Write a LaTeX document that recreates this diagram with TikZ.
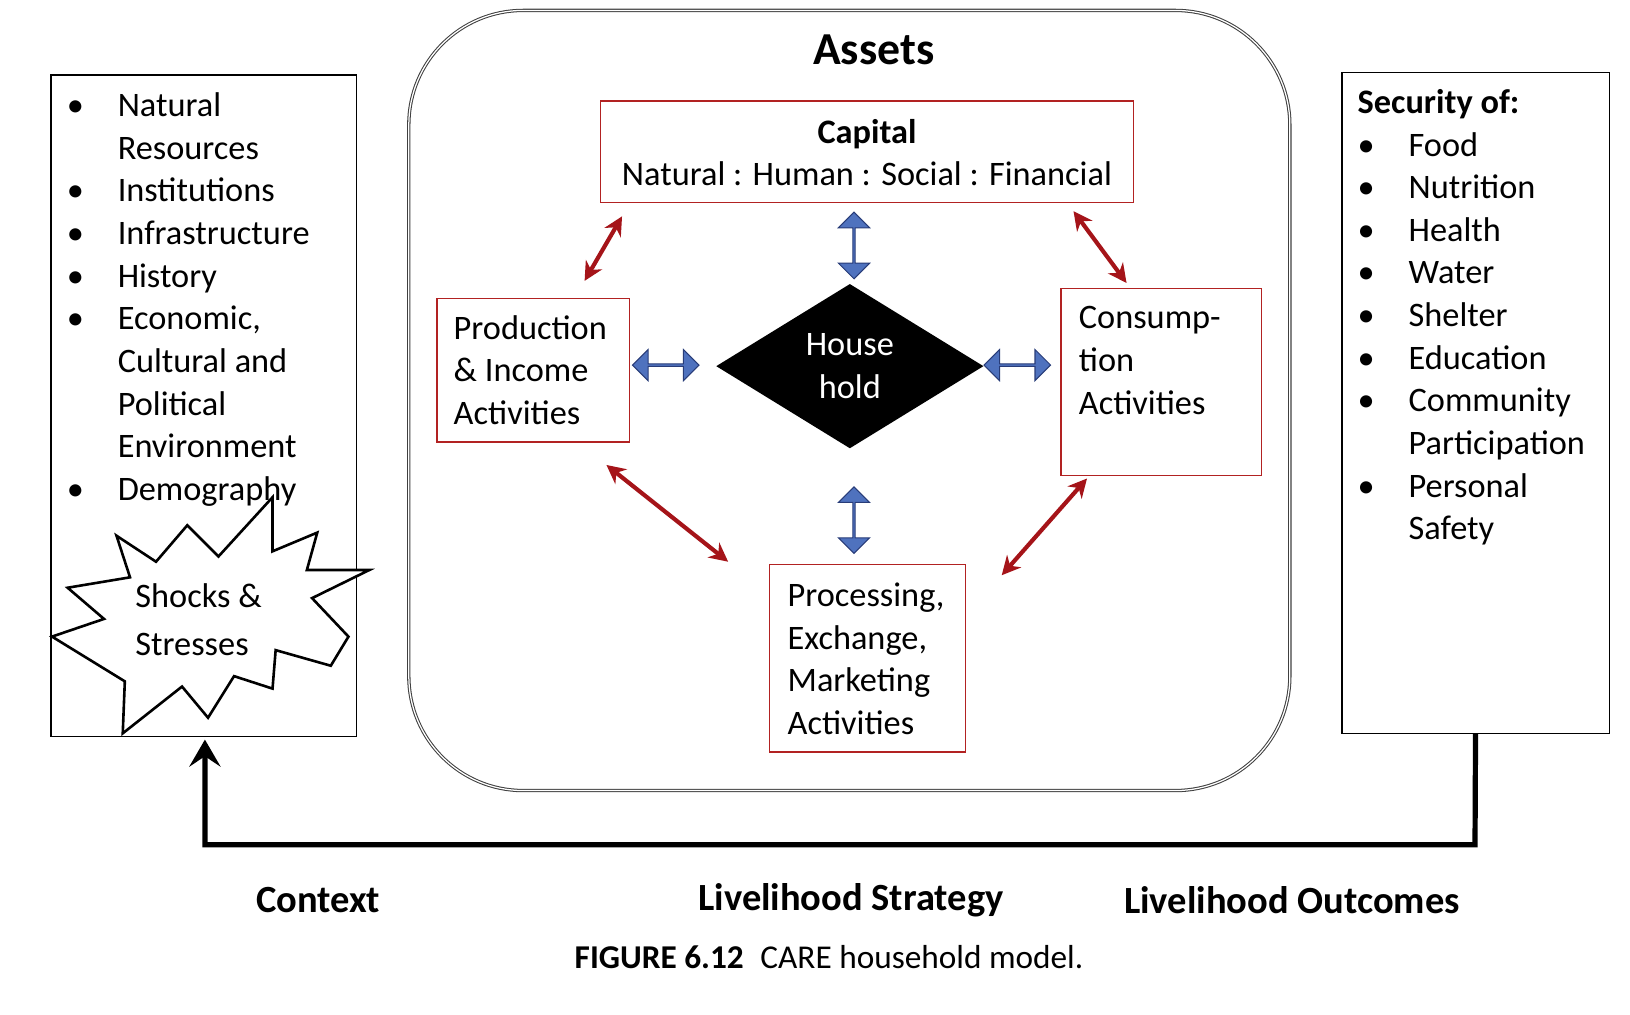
\documentclass[tikz,border=0pt]{standalone}
\usepackage{fontspec}
\setmainfont{Carlito}
\usetikzlibrary{shapes.geometric,shapes.arrows,arrows.meta}
\definecolor{boxred}{RGB}{178,34,34}
\definecolor{arrred}{RGB}{165,20,25}
\definecolor{arrblue}{RGB}{79,114,190}
\definecolor{arrblueline}{RGB}{40,60,120}
\begin{document}
\begin{tikzpicture}[x=1pt,y=-1pt,
  txt/.style={anchor=base west,inner sep=0pt,font=\fontsize{33}{41}\selectfont},
  redbox/.style={draw=boxred,line width=1.2pt},
  redarr/.style={draw=arrred,line width=4pt,{Stealth[length=18pt,width=18pt]}-{Stealth[length=18pt,width=18pt]}},
  bluearr/.style={double arrow,fill=arrblue,draw=arrblueline,line width=1pt,minimum width=30pt,minimum height=64pt,double arrow head extend=6pt,inner sep=0pt},
  lbl/.style={font=\fontsize{37}{42}\selectfont\bfseries}]
\useasboundingbox (0,0) rectangle (1567,975);

% Context box
\draw[line width=1.2pt] (49,72) rectangle (343,708);
\foreach \y/\t [count=\i] in {101/Natural,142/Resources,183/Institutions,224/Infrastructure,265/History,306/{Economic,},347/Cultural and,388/Political,429/Environment,470/Demography}
  \node[txt] (ctx\i) at (113,\y+11) {\t};
\foreach \y [count=\i] in {101,183,224,265,306,470}
  \node[txt] (cb\i) at (64,\y+11) {\textbullet};

% shocks
\draw[line width=2.5pt,fill=white,line join=miter] (112,515) -- (150,540) -- (180,505) -- (210,535) -- (262,478) -- (262,530) -- (305,512) -- (295,548) -- (355,548) -- (300,575) -- (335,612) -- (318,640) -- (265,625) -- (262,662) -- (225,650) -- (200,690) -- (175,660) -- (118,705) -- (120,655) -- (50,612) -- (100,595) -- (65,565) -- (125,555) -- cycle;
\node[txt] (sh1) at (130,584) {Shocks \&};
\node[txt] (sh2) at (130,630) {Stresses};

% Assets frame
\draw[double=white,double distance=1.2pt,draw=black!75,line width=1pt,rounded corners=110pt] (393,10) rectangle (1240,760);
\node[font=\fontsize{44}{48}\selectfont\bfseries] (assets) at (840,48) {Assets};

% Capital
\node[redbox,minimum width=513pt,minimum height=98pt] (cap) at (833.5,146) {};
\node[txt,anchor=base,font=\fontsize{33}{41}\selectfont\bfseries] (capt) at (833.5,138) {Capital};
\node[txt,anchor=base] (capl) at (833.5,178) {Natural : Human : Social : Financial};

% Production
\node[redbox,minimum width=185pt,minimum height=138pt] (prod) at (512.5,356) {};
\foreach \y/\t [count=\i] in {315/Production,356/\& Income,397/Activities}
  \node[txt] (p\i) at (436,\y+11) {\t};

% Consumption
\node[redbox,minimum width=193pt,minimum height=180pt] (cons) at (1116.5,367) {};
\foreach \y/\t [count=\i] in {305/Consump-,346/tion,387/Activities}
  \node[txt] (c\i) at (1037,\y+11) {\t};

% Processing
\node[redbox,minimum width=188pt,minimum height=180pt] (proc) at (834,633) {};
\foreach \y/\t [count=\i] in {572/{Processing,},613/{Exchange,},654/{Marketing},695/Activities}
  \node[txt] (m\i) at (757,\y+11) {\t};

% Household
\node[diamond,fill=black,minimum width=257pt,minimum height=158pt,inner sep=0pt,aspect=1.63] (hh) at (817,352) {};
\node[txt,anchor=center,text=white,align=center] (hht) at (817,352) {House\\hold};

% blue arrows
\node[bluearr,rotate=90] (b1) at (821,236) {};
\node[bluearr,rotate=90] (b2) at (821,500) {};
\node[bluearr] (b3) at (640,351) {};
\node[bluearr] (b4) at (978,351) {};

% red arrows
\coordinate (r1a) at (598,208); \coordinate (r1b) at (562,270);
\coordinate (r2a) at (1032,203); \coordinate (r2b) at (1083,272);
\coordinate (r3a) at (583,447); \coordinate (r3b) at (700,540);
\coordinate (r4a) at (1045,460); \coordinate (r4b) at (963,553);
\draw[redarr] (r1a) -- (r1b);
\draw[redarr] (r2a) -- (r2b);
\draw[redarr] (r3a) -- (r3b);
\draw[redarr] (r4a) -- (r4b);

% Outcomes box
\node[draw,line width=1.2pt,minimum width=257pt,minimum height=635pt,inner sep=0pt] (out) at (1418.5,387.5) {};
\node[txt,font=\fontsize{33}{41}\selectfont\bfseries] (sec) at (1305,109) {Security of:};
\foreach \y/\t [count=\i] in {139/Food,180/Nutrition,221/Health,262/Water,303/Shelter,344/Education,385/Community,426/Participation,467/Personal,508/Safety}
  \node[txt] (o\i) at (1354,\y+11) {\t};
\foreach \y [count=\i] in {139,180,221,262,303,344,385,467}
  \node[txt] (ob\i) at (1305,\y+11) {\textbullet};

% feedback
\coordinate (fb1) at (1418,812);
\coordinate (fb2) at (197,812);
\draw[line width=5pt,-{Stealth[length=26pt,width=30pt,inset=10pt]}] (out.south) -- (fb1) -- (fb2) -- (197,711);

% labels
\node[lbl] (lc) at (306,865) {Context};
\node[lbl] (ls) at (818,865) {Livelihood Strategy};
\node[lbl] (lo) at (1242,865) {Livelihood Outcomes};
\node[font=\fontsize{32}{36}\selectfont] (cap2) at (797,920) {\textbf{FIGURE 6.12}\enspace CARE household model.};
\end{tikzpicture}
\end{document}
